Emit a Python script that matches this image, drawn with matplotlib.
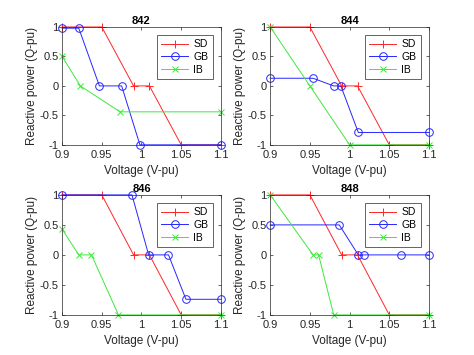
import matplotlib
matplotlib.use("Agg")
import matplotlib.pyplot as plt

plt.rcParams['font.family'] = ['Liberation Sans', 'DejaVu Sans']

titles = ["842", "844", "846", "848"]

sd_v = [[0.9, 0.95, 0.99, 1.01, 1.05, 1.1],
        [0.9, 0.95, 0.99, 1.01, 1.05, 1.1],
        [0.9, 0.95, 0.99, 1.01, 1.05, 1.1],
        [0.9, 0.95, 0.99, 1.01, 1.05, 1.1]]
sd_q = [[1, 1, 0, 0, -1, -1],
        [1, 1, 0, 0, -1, -1],
        [1, 1, 0, 0, -1, -1],
        [1, 1, 0, 0, -1, -1]]

gb_v = [[0.9, 0.921, 0.947, 0.975, 0.998, 1.1],
        [0.9, 0.954, 0.98, 0.989, 1.011, 1.1],
        [0.9, 0.988, 1.009, 1.034, 1.056, 1.1],
        [0.9, 0.987, 1.011, 1.018, 1.065, 1.1]]
gb_q = [[0.98, 0.98, 0, 0, -1, -1],
        [0.13, 0.13, 0, 0, -0.79, -0.79],
        [1, 1, 0, 0, -0.74, -0.74],
        [0.5, 0.5, 0, 0, 0, 0]]

ib_v = [[0.9, 0.923, 0.973, 1.1],
        [0.9, 0.95, 1.0, 1.1],
        [0.9, 0.921, 0.937, 0.971, 1.1],
        [0.9, 0.954, 0.961, 0.98, 1.1]]
ib_q = [[0.5, 0, -0.44, -0.44],
        [1, 0, -1, -1],
        [0.43, 0, 0, -1, -1],
        [1, 0, 0, -1, -1]]

xticks = [0.9, 0.95, 1.0, 1.05, 1.1]
xticklabels = ["0.9", "0.95", "1", "1.05", "1.1"]
yticks = [-1, -0.5, 0, 0.5, 1]
yticklabels = ["-1", "-0.5", "0", "0.5", "1"]

fig = plt.figure(figsize=(4.74, 3.55), dpi=100)
boxes = [(0.131, 0.592, 0.335, 0.332),
         (0.570, 0.592, 0.335, 0.332),
         (0.131, 0.113, 0.335, 0.338),
         (0.570, 0.113, 0.335, 0.338)]
gray = (0.15, 0.15, 0.15)
for i, b in enumerate(boxes):
    ax = fig.add_axes(b)
    ax.plot(sd_v[i], sd_q[i], color=(1, 0.15, 0.15), lw=0.7, marker='+', ms=6, mew=0.7,
            label='SD', clip_on=False)
    ax.plot(gb_v[i], gb_q[i], color=(0.15, 0.15, 1), lw=0.7, marker='o', ms=5.5, mew=0.7,
            mfc='none', label='GB', clip_on=False)
    ax.plot(ib_v[i], ib_q[i], color=(0.25, 0.9, 0.25), lw=0.7, marker='x', ms=4, mew=0.7,
            label='IB', clip_on=False)
    ax.set_xlim(0.9, 1.1)
    ax.set_ylim(-1, 1)
    ax.set_xticks(xticks)
    ax.set_xticklabels(xticklabels)
    ax.set_yticks(yticks)
    ax.set_yticklabels(yticklabels)
    ax.tick_params(direction='in', top=True, right=True, labelsize=8, length=2.5,
                   width=0.5, colors=gray)
    ax.tick_params(axis='x', pad=3.5)
    ax.tick_params(axis='y', pad=2.5)
    for s in ax.spines.values():
        s.set_linewidth(0.5)
        s.set_color(gray)
    ax.set_xlabel("Voltage (V-pu)", fontsize=8.5, color=gray, labelpad=4)
    ax.set_ylabel("Reactive power (Q-pu)", fontsize=8.5, color=gray, labelpad=1.5)
    ax.set_title(titles[i], fontsize=8, fontweight='bold', pad=2)
    leg = ax.legend(loc='upper right', fontsize=7.5, fancybox=False, edgecolor=gray,
                    framealpha=1, borderaxespad=0.8, handlelength=2.6, handletextpad=0.5,
                    labelspacing=0.25, borderpad=0.4)
    leg.get_frame().set_linewidth(0.5)

fig.savefig("out.png", dpi=100)
